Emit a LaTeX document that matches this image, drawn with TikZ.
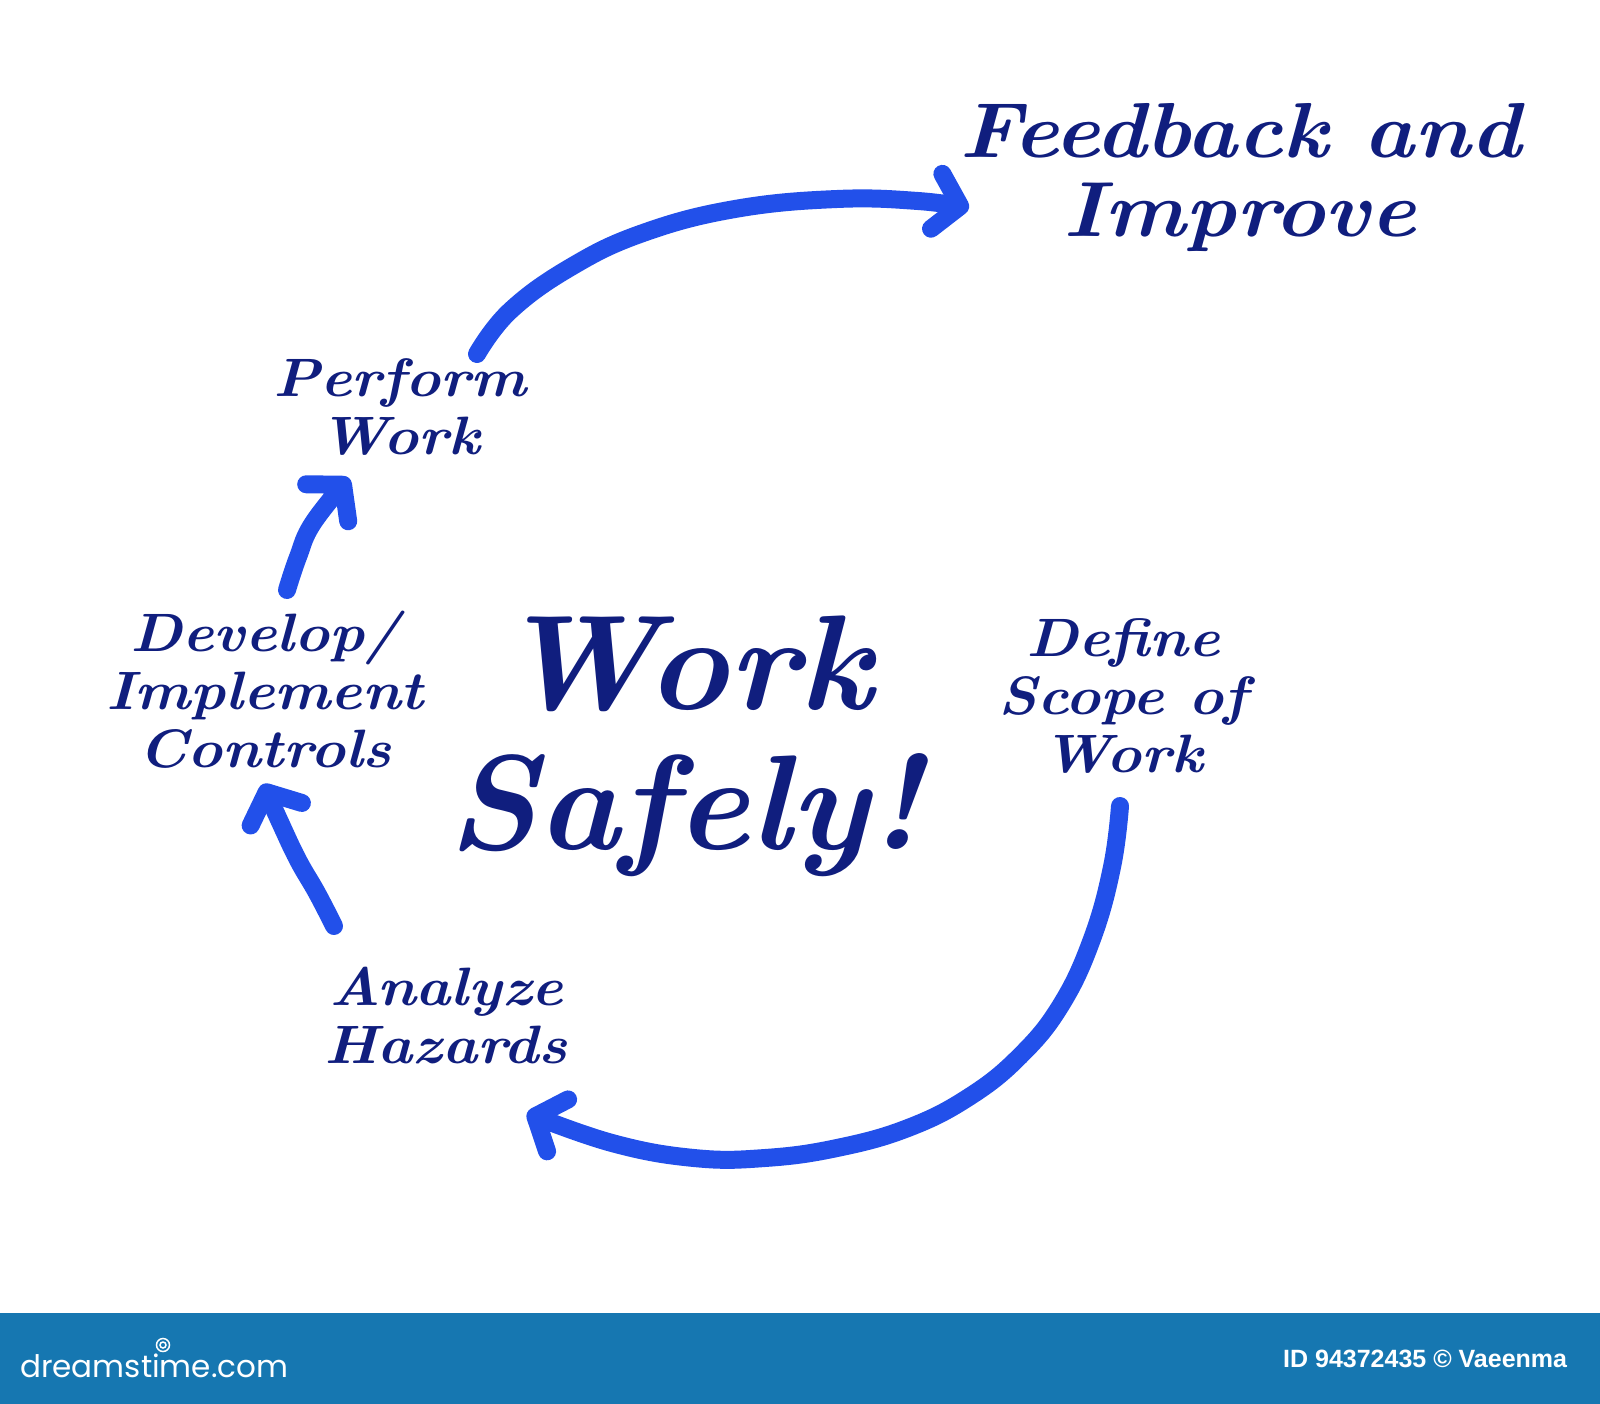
\documentclass[tikz,border=0pt]{standalone}
\usepackage{fontspec}
\usepackage{graphicx}
\usetikzlibrary{arrows.meta}
\newfontfamily\logofont{Poppins}
\newfontfamily\idfont{Liberation Sans}
\definecolor{navy}{RGB}{16,30,126}
\definecolor{arrowblue}{RGB}{34,80,234}
\definecolor{footblue}{RGB}{22,119,177}
\newcommand\hw[1]{\scalebox{1.1}[1]{#1}}
\newcommand\hwbig[1]{\scalebox{1.03}[1]{#1}}
\begin{document}
\begin{tikzpicture}[x=1pt,y=-1pt,
  lbl/.style={text=navy, align=center, anchor=base, inner sep=0pt, font=\bfseries\itshape\fontsize{54}{58}\selectfont},
  arr/.style={draw=arrowblue, line width=18pt, line cap=round, line join=round,
    -{Straight Barb[length=24pt,width=56pt,line cap=round,line join=round]}}]
\useasboundingbox (0,0) rectangle (1600,1404);
\fill[white] (0,0) rectangle (1600,1313);
\fill[footblue] (0,1313) rectangle (1600,1404);

\node[lbl, font=\bfseries\itshape\fontsize{78}{79}\selectfont] (feedback) at (1240,237) {\hw{Feedback and}\\\hw{Improve}};
\node[lbl] (perform) at (400,454) {\hw{Perform}\\\hw{Work}};
\node[lbl] (develop) at (265,767) {\hw{Develop/}\\\hw{Implement}\\\hw{Controls}};
\node[lbl] (define) at (1123,772) {\hw{Define}\\\hw{Scope of}\\\hw{Work}};
\node[lbl] (analyze) at (446,1063) {\hw{Analyze}\\\hw{Hazards}};
\node[lbl, font=\bfseries\itshape\fontsize{135}{140}\selectfont] (work) at (685,849) {\hwbig{Work}\\\hwbig{Safely!}};

\coordinate (a1s) at (477,354); \coordinate (a1e) at (969,208);
\coordinate (a2s) at (287,590); \coordinate (a2e) at (349,478);
\coordinate (a3s) at (334,926); \coordinate (a3e) at (263,784);
\coordinate (a4s) at (1120,806); \coordinate (a4e) at (527,1113);

\draw[arr] plot[smooth, tension=0.7] coordinates {(a1s) (510,311) (571,267) (643,233) (735,209) (837,199) (918,201) (a1e)};
\draw[arr] plot[smooth, tension=0.7] coordinates {(a2s) (298,557) (313,523) (a2e)};
\draw[arr] plot[smooth, tension=0.7] coordinates {(a3s) (317,893) (298,860) (280,822) (a3e)};
\draw[arr] plot[smooth, tension=0.7] coordinates {(a4s) (1112,867) (1092,939) (1061,1005) (1020,1056) (969,1097) (908,1128) (837,1148) (765,1158) (694,1158) (612,1143) (a4e)};

\node[text=white, anchor=base west, inner sep=0pt, font=\logofont\fontsize{31}{36}\selectfont] (logo) at (20,1377) {dreamstime.com};
\draw[white, line width=1.5pt] (163,1345) circle[radius=6.5] (163,1345) circle[radius=3];
\node[text=white, anchor=base west, inner sep=0pt, font=\idfont\bfseries\fontsize{25}{28}\selectfont] (id) at (1283,1367) {ID 94372435 © Vaeenma};
\end{tikzpicture}
\end{document}
